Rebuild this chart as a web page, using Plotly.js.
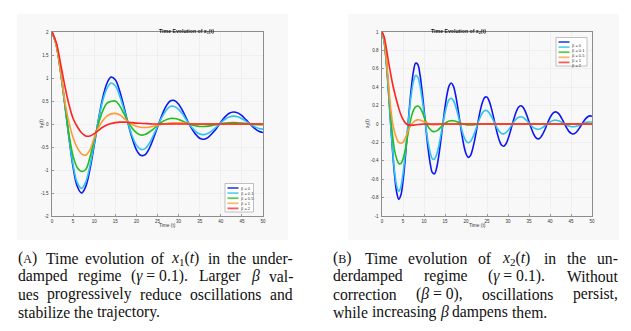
<!DOCTYPE html>
<html><head><meta charset="utf-8">
<script src="https://cdn.plot.ly/plotly-3.0.1.min.js"></script>
<style>html,body{margin:0;padding:0;background:#fff;}#chart{width:631px;height:331px;}</style>
</head><body><div id="chart"></div>
<script>
// ---------- data ----------
const t1 = [0,1,2,3,4,5,6,7,8,9,10,11,12,13,14,15,16,17,18,19,20,21,22,23,24,25,26,27,28,29,30,31,32,33,34,35,36,37,38,39,40,41,42,43,44,45,46,47,48,49,50];
const t2 = [0,0.5,1,1.5,2,2.5,3,3.5,4,4.5,5,5.5,6,6.5,7,7.5,8,8.5,9,9.5,10,10.5,11,11.5,12,12.5,13,13.5,14,14.5,15,15.5,16,16.5,17,17.5,18,18.5,19,19.5,20,20.5,21,21.5,22,22.5,23,23.5,24,24.5,25,25.5,26,26.5,27,27.5,28,28.5,29,29.5,30,30.5,31,31.5,32,32.5,33,33.5,34,34.5,35,35.5,36,36.5,37,37.5,38,38.5,39,39.5,40,40.5,41,41.5,42,42.5,43,43.5,44,44.5,45,45.5,46,46.5,47,47.5,48,48.5,49,49.5,50];
const betaLabels = ['β = 0','β = 0.1','β = 0.5','β = 1','β = 2'];

// x1(t)
const x1_beta0 = [2.00,1.73,1.17,0.46,-0.28,-0.94,-1.36,-1.50,-1.36,-0.98,-0.46,0.09,0.56,0.88,1.02,0.96,0.73,0.39,0.02,-0.31,-0.56,-0.68,-0.67,-0.54,-0.32,-0.07,0.18,0.38,0.50,0.51,0.43,0.28,0.09,-0.085,-0.22,-0.31,-0.33,-0.29,-0.20,-0.09,0.04,0.155,0.233,0.262,0.242,0.18,0.09,-0.006,-0.094,-0.156,-0.185];
const x1_beta01 = [2.00,1.71,1.15,0.45,-0.27,-0.89,-1.28,-1.40,-1.26,-0.90,-0.42,0.08,0.50,0.77,0.89,0.83,0.62,0.33,0.02,-0.26,-0.46,-0.55,-0.54,-0.43,-0.25,-0.055,0.14,0.29,0.38,0.38,0.32,0.21,0.065,-0.06,-0.157,-0.22,-0.23,-0.20,-0.137,-0.06,0.027,0.103,0.153,0.171,0.156,0.115,0.057,-0.004,-0.058,-0.096,-0.112];
const x1_beta05 = [2.00,1.72,1.15,0.47,-0.21,-0.70,-0.95,-1.03,-0.99,-0.72,-0.33,0.00,0.28,0.45,0.49,0.50,0.40,0.23,0.05,-0.09,-0.19,-0.24,-0.23,-0.18,-0.11,-0.03,0.04,0.09,0.12,0.12,0.10,0.06,0.02,-0.015,-0.04,-0.053,-0.055,-0.046,-0.03,-0.013,0.005,0.02,0.028,0.03,0.027,0.019,0.009,0,-0.009,-0.013,-0.015];
const x1_beta1 = [2.00,1.72,1.17,0.52,0.04,-0.30,-0.52,-0.65,-0.68,-0.56,-0.30,-0.08,0.07,0.17,0.22,0.23,0.20,0.13,0.05,-0.01,-0.05,-0.07,-0.075,-0.07,-0.05,-0.025,-0.005,0.01,0.02,0.025,0.025,0.02,0.012,0.005,0,-0.004,-0.005,-0.004,-0.002,0,0,0,0,0,0,0,0,0,0,0,0];
const x1_beta2 = [2.00,1.78,1.33,0.85,0.43,0.12,-0.06,-0.19,-0.26,-0.26,-0.21,-0.14,-0.07,-0.02,0.01,0.03,0.04,0.04,0.035,0.03,0.02,0.015,0.01,0.005,0,0,0,0,0,0,0,0,0,0,0,0,0,0,0,0,0,0,0,0,0,0,0,0,0,0,0];

// x2(t)
const x2_beta0 = [1.000,0.906,0.691,0.390,0.048,-0.284,-0.561,-0.744,-0.817,-0.772,
-0.622,-0.393,-0.118,0.159,0.402,0.574,0.661,0.650,0.550,0.377,
0.161,-0.068,-0.277,-0.436,-0.528,-0.541,-0.479,-0.352,-0.183,0.004,
0.181,0.325,0.417,0.445,0.411,0.321,0.190,0.040,-0.109,-0.236,
-0.323,-0.362,-0.348,-0.286,-0.188,-0.067,0.056,0.167,0.247,0.291,
0.292,0.251,0.178,0.084,-0.018,-0.112,-0.187,-0.231,-0.241,-0.218,
-0.163,-0.091,-0.008,0.071,0.138,0.181,0.198,0.186,0.148,0.092,
0.026,-0.041,-0.099,-0.140,-0.160,-0.157,-0.131,-0.089,-0.037,0.019,
0.069,0.107,0.128,0.131,0.115,0.084,0.042,-0.003,-0.045,-0.080,
-0.101,-0.108,-0.099,-0.076,-0.045,-0.008,0.028,0.058,0.079,0.088,
0.084];
const x2_beta01 = [1.000,0.893,0.672,0.374,0.045,-0.265,-0.516,-0.675,-0.730,-0.681,
-0.541,-0.337,-0.100,0.133,0.330,0.466,0.528,0.512,0.427,0.289,
0.122,-0.051,-0.204,-0.316,-0.378,-0.381,-0.333,-0.241,-0.124,0.003,
0.119,0.211,0.266,0.280,0.255,0.197,0.115,0.024,-0.064,-0.137,
-0.184,-0.204,-0.193,-0.157,-0.102,-0.036,0.029,0.087,0.126,0.147,
0.145,0.123,0.086,0.040,-0.008,-0.052,-0.085,-0.104,-0.107,-0.095,
-0.070,-0.039,-0.003,0.029,0.056,0.073,0.079,0.073,0.057,0.035,
0.010,-0.015,-0.036,-0.050,-0.057,-0.055,-0.045,-0.030,-0.012,0.006,
0.022,0.034,0.041,0.041,0.035,0.026,0.013,-0.001,-0.013,-0.023,
-0.029,-0.030,-0.027,-0.021,-0.012,-0.002,0.007,0.015,0.020,0.022,
0.021];
const x2_beta05 = [1,0.91,0.70,0.42,0.12,-0.12,-0.29,-0.38,-0.43,-0.43,
-0.38,-0.29,-0.16,-0.03,0.08,0.15,0.185,0.195,0.18,0.14,
0.08,0.02,-0.03,-0.06,-0.078,-0.083,-0.075,-0.058,-0.035,-0.012,
0.008,0.022,0.032,0.036,0.036,0.031,0.023,0.014,0.005,-0.002,
-0.007,-0.01,-0.011,-0.01,-0.008,-0.005,-0.002,0,0.002,0.003,
0.003,0.003,0.002,0.001,0,0,0,0,0,0,
0,0,0,0,0,0,0,0,0,0,
0,0,0,0,0,0,0,0,0,0,
0,0,0,0,0,0,0,0,0,0,
0,0,0,0,0,0,0,0,0,0,
0];
const x2_beta1 = [1,0.92,0.72,0.46,0.20,0.02,-0.09,-0.16,-0.20,-0.21,
-0.20,-0.16,-0.10,-0.045,-0.005,0.022,0.038,0.045,0.044,0.036,
0.025,0.013,0.003,-0.004,-0.007,-0.008,-0.008,-0.006,-0.004,-0.002,
0,0,0,0,0,0,0,0,0,0,
0,0,0,0,0,0,0,0,0,0,
0,0,0,0,0,0,0,0,0,0,
0,0,0,0,0,0,0,0,0,0,
0,0,0,0,0,0,0,0,0,0,
0,0,0,0,0,0,0,0,0,0,
0,0,0,0,0,0,0,0,0,0,
0];
const x2_beta2 = [1,0.95,0.83,0.69,0.56,0.44,0.34,0.25,0.17,0.10,
0.05,0.015,-0.005,-0.012,-0.013,-0.012,-0.009,-0.006,-0.004,-0.002,
0,0,0,0,0,0,0,0,0,0,
0,0,0,0,0,0,0,0,0,0,
0,0,0,0,0,0,0,0,0,0,
0,0,0,0,0,0,0,0,0,0,
0,0,0,0,0,0,0,0,0,0,
0,0,0,0,0,0,0,0,0,0,
0,0,0,0,0,0,0,0,0,0,
0,0,0,0,0,0,0,0,0,0,
0];

const xTicks = [0,5,10,15,20,25,30,35,40,45,50];
const y1Ticks = [-2,-1.5,-1,-0.5,0,0.5,1,1.5,2];
const y1TickText = ['-2','-1.5','-1','-0.5','0','0.5','1','1.5','2'];
const y2Ticks = [-1,-0.8,-0.6,-0.4,-0.2,0,0.2,0.4,0.6,0.8,1];
const y2TickText = ['-1','-0.8','-0.6','-0.4','-0.2','0','0.2','0.4','0.6','0.8','1'];

// captions: '~' marks a space that must not stretch when justifying
const captionA = [
  '(<span style="font-size:12px">A</span>) Time evolution of <i>x</i><sub>1</sub>(<i>t</i>) in the under-',
  'damped regime (<i>γ</i>~=~0.1). Larger <i>β</i> val-',
  'ues progressively reduce oscillations and',
  'stabilize the trajectory.'
];
const captionB = [
  '(<span style="font-size:12px">B</span>) Time evolution of <i>x</i><sub>2</sub>(<i>t</i>) in the un-',
  'derdamped regime (<i>γ</i>~=~0.1). Without',
  'correction (<i>β</i>~=~0), oscillations persist,',
  'while increasing <i>β</i> dampens them.'
];

// ---------- styling ----------
const colors = ['#0c16f2','#2ec3ef','#1fbf1f','#ff9a3a','#ff2222'];
const W = 631, H = 331;
const px = v => v / W, py = v => 1 - v / H;

const series1 = [x1_beta0, x1_beta01, x1_beta05, x1_beta1, x1_beta2];
const series2 = [x2_beta0, x2_beta01, x2_beta05, x2_beta1, x2_beta2];

const traces = [];
series1.forEach((s, i) => traces.push({x: t1, y: s, xaxis: 'x', yaxis: 'y', type: 'scatter', mode: 'lines',
  line: {color: colors[i], width: 1.6, shape: 'spline', smoothing: 1}, showlegend: false, hoverinfo: 'skip'}));
series2.forEach((s, i) => traces.push({x: t2, y: s, xaxis: 'x2', yaxis: 'y2', type: 'scatter', mode: 'lines',
  line: {color: colors[i], width: 1.6, shape: 'spline', smoothing: 1}, showlegend: false, hoverinfo: 'skip'}));

const sans = 'Liberation Sans, Arial, sans-serif';
const tickFont = {family: sans, size: 4.5, color: '#333'};
function xax(domain, anchor) {
  return {domain, anchor, range: [0, 50], tickvals: xTicks, ticktext: xTicks.map(String), ticks: 'inside', ticklen: 2,
    tickwidth: 0.5, tickcolor: '#444', showline: true, linecolor: '#444', linewidth: 0.6, mirror: true,
    showgrid: true, gridcolor: '#e9e9e9', gridwidth: 0.6, zeroline: false, tickfont: tickFont, ticklabelstandoff: 1};
}
function yax(domain, anchor, range, tv, tt) {
  return {domain, anchor, range, tickvals: tv, ticktext: tt, ticks: 'inside', ticklen: 2,
    tickwidth: 0.5, tickcolor: '#444', showline: true, linecolor: '#444', linewidth: 0.6, mirror: true,
    showgrid: true, gridcolor: '#e9e9e9', gridwidth: 0.6, zeroline: false, tickfont: tickFont, ticklabelstandoff: 2};
}
const yDom = [py(216), py(32)];

const shapes = [
  {type: 'rect', xref: 'paper', yref: 'paper', x0: px(17), x1: px(288), y0: py(240), y1: py(14), fillcolor: '#f8f8f8', line: {width: 0}, layer: 'below'},
  {type: 'rect', xref: 'paper', yref: 'paper', x0: px(348), x1: px(619), y0: py(240), y1: py(14), fillcolor: '#f8f8f8', line: {width: 0}, layer: 'below'}
];
const annotations = [];
function txt(x, y, text, size, opts) {
  annotations.push(Object.assign({xref: 'paper', yref: 'paper', x: px(x), y: py(y), text, showarrow: false,
    font: {family: sans, size, color: '#333'}, borderpad: 0}, opts || {}));
}
// titles and axis titles
txt(157.5, 26.5, '<b>Time Evolution of x<sub>1</sub>(t)</b>', 5.2, {font: {family: sans, size: 5.2, color: '#111'}});
txt(487, 26.5, '<b>Time Evolution of x<sub>2</sub>(t)</b>', 5.2, {font: {family: sans, size: 5.2, color: '#111'}});
txt(157.5, 228.5, 'Time (t)', 4.8);
txt(487, 228.5, 'Time (t)', 4.8);
txt(38, 124, 'x<sub>1</sub>(t)', 4.8, {textangle: -90});
txt(368, 124, 'x<sub>2</sub>(t)', 4.8, {textangle: -90});

// legends (drawn by hand so they can be as compact as the original)
function legend(x0, y0, w, rowH) {
  shapes.push({type: 'rect', xref: 'paper', yref: 'paper', x0: px(x0), x1: px(x0 + w), y0: py(y0 + rowH * 5 + 3), y1: py(y0),
    fillcolor: '#ffffff', line: {color: '#999', width: 0.6}, layer: 'above'});
  betaLabels.forEach((lab, i) => {
    const yy = y0 + 4.5 + rowH * i;
    shapes.push({type: 'line', xref: 'paper', yref: 'paper', x0: px(x0 + 2.5), x1: px(x0 + 13.5), y0: py(yy), y1: py(yy),
      line: {color: colors[i], width: 1.8}, opacity: 0.75, layer: 'above'});
    txt(x0 + 15, yy, lab, 4, {xanchor: 'left'});
  });
}
legend(225, 183.5, 28.5, 5.1);
legend(556, 37.5, 31, 5.1);

// captions, justified word by word
const ctx = document.createElement('canvas').getContext('2d');
const capSize = 15.7;
const serif = 'Liberation Serif, Times New Roman, serif';
function plain(s) { return s.replace(/<[^>]+>/g, '').replace(/~/g, ' '); }
function caption(lines, x0, x1, y0, dy) {
  ctx.font = capSize + 'px "Liberation Serif"';
  lines.forEach((line, i) => {
    const words = line.split(/ (?![^<]*>)/);
    const widths = words.map(w => ctx.measureText(plain(w)).width);
    const total = widths.reduce((a, b) => a + b, 0);
    const last = i === lines.length - 1;
    const gap = last ? ctx.measureText(' ').width : (x1 - x0 - total) / (words.length - 1);
    let x = x0;
    words.forEach((w, j) => {
      annotations.push({xref: 'paper', yref: 'paper', x: px(x), y: py(y0 + dy * i), xanchor: 'left', yanchor: 'middle',
        text: w.replace(/~/g, ' '), showarrow: false, borderpad: 0,
        font: {family: serif, size: capSize, color: '#111'}});
      x += widths[j] + gap;
    });
  });
}
caption(captionA, 17, 292, 258, 18);
caption(captionB, 332, 617, 258, 18);

const layout = {
  width: W, height: H, margin: {l: 0, r: 0, t: 0, b: 0},
  paper_bgcolor: '#ffffff', plot_bgcolor: '#ffffff', showlegend: false,
  xaxis: xax([px(52), px(263)], 'y'),
  yaxis: yax(yDom, 'x', [-2, 2], y1Ticks, y1TickText),
  xaxis2: xax([px(382), px(592)], 'y2'),
  yaxis2: yax(yDom, 'x2', [-1, 1], y2Ticks, y2TickText),
  shapes, annotations
};
Plotly.newPlot('chart', traces, layout, {displayModeBar: false, staticPlot: true});
</script></body></html>
